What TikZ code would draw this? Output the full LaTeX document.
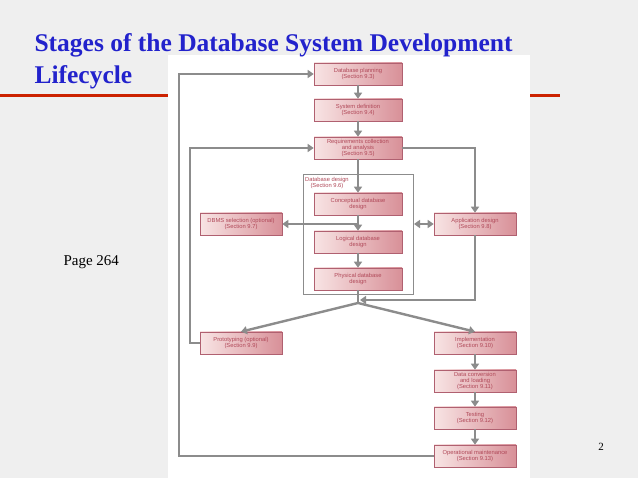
\documentclass[tikz,border=0pt]{standalone}
\usepackage{fontspec}
\setmainfont{Liberation Serif}
\newfontfamily\boxfont{Liberation Sans}
\usetikzlibrary{arrows.meta}
\definecolor{slidebg}{HTML}{EFEFEF}
\definecolor{titleblue}{HTML}{2222CC}
\definecolor{barred}{HTML}{CC2200}
\definecolor{boxedge}{HTML}{B06070}
\definecolor{boxtext}{HTML}{B04858}
\definecolor{boxl}{HTML}{F8E4E4}
\definecolor{boxr}{HTML}{D89098}
\definecolor{conn}{HTML}{8C8C8C}
\tikzset{
  stage/.style={draw=boxedge, line width=0.6pt, left color=boxl, right color=boxr,
    minimum width=88pt, minimum height=22pt, inner sep=0pt, align=center,
    text=boxtext, font=\boxfont\fontsize{5.8}{6.4}\selectfont},
  link/.style={draw=conn, line width=2.4pt, -{Triangle[length=6pt,width=8pt]}},
  plain/.style={draw=conn, line width=2.4pt},
}
\begin{document}
\begin{tikzpicture}[x=1pt,y=-1pt]
\useasboundingbox (0,0) rectangle (638,478);
\fill[slidebg] (0,0) rectangle (638,478);
\fill[white] (168,55) rectangle (530,478);
\fill[barred] (0,94) rectangle (168,97);
\fill[barred] (530,94) rectangle (560,97);
\node[anchor=west, text=titleblue, font=\bfseries\fontsize{25.5}{32}\selectfont, align=left] (title) at (31,61) {Stages of the Database System Development\\Lifecycle};
\node[anchor=west, font=\fontsize{15}{18}\selectfont] (page) at (60,262) {Page 264};
\node[font=\fontsize{11}{13}\selectfont] (num) at (601,447) {2};

\draw[draw=conn, line width=1pt] (303,175) rectangle (413,295);
\node[anchor=north west, text=boxtext, font=\boxfont\fontsize{5.8}{6.4}\selectfont, align=center, inner sep=1pt] (dbd) at (304,176) {Database design\\(Section 9.6)};

\node[stage] (plan) at (358,74) {Database planning\\(Section 9.3)};
\node[stage] (sys) at (358,110) {System definition\\(Section 9.4)};
\node[stage] (req) at (358,148) {Requirements collection\\and analysis\\(Section 9.5)};
\node[stage] (con) at (358,204) {Conceptual database\\design};
\node[stage] (log) at (358,242) {Logical database\\design};
\node[stage] (phy) at (358,279) {Physical database\\design};
\node[stage, minimum width=82pt] (dbms) at (241,224) {DBMS selection (optional)\\(Section 9.7)};
\node[stage, minimum width=82pt] (app) at (475,224) {Application design\\(Section 9.8)};
\node[stage, minimum width=82pt] (proto) at (241,343) {Prototyping (optional)\\(Section 9.9)};
\node[stage, minimum width=82pt] (impl) at (475,343) {Implementation\\(Section 9.10)};
\node[stage, minimum width=82pt] (conv) at (475,381) {Data conversion\\and loading\\(Section 9.11)};
\node[stage, minimum width=82pt] (test) at (475,418) {Testing\\(Section 9.12)};
\node[stage, minimum width=82pt] (ops) at (475,456) {Operational maintenance\\(Section 9.13)};

\coordinate (j) at (358,303);
\coordinate (mid) at (358,224);

\draw[link] (plan) -- (sys);
\draw[link] (sys) -- (req);
\draw[link] (req) -- (con);
\draw[link] (con) -- (log);
\draw[link] (log) -- (phy);
\draw[link] (mid) -- (dbms);
\draw[link] (req.east) -| (app.north);
\draw[draw=conn, line width=2.4pt, {Triangle[length=6pt,width=8pt]}-{Triangle[length=6pt,width=8pt]}] (414,224) -- (app.west);
\draw[link] (app.south) |- (360,300);
\draw[plain] (phy.south) -- (j);
\draw[link] (j) -- (proto.north);
\draw[link] (j) -- (impl.north);
\draw[link] (impl) -- (conv);
\draw[link] (conv) -- (test);
\draw[link] (test) -- (ops);
\draw[link] (ops.west) -- ++(-255,0) |- (plan.west);
\draw[link] (proto.west) -- ++(-10,0) |- (req.west);
\end{tikzpicture}
\end{document}
